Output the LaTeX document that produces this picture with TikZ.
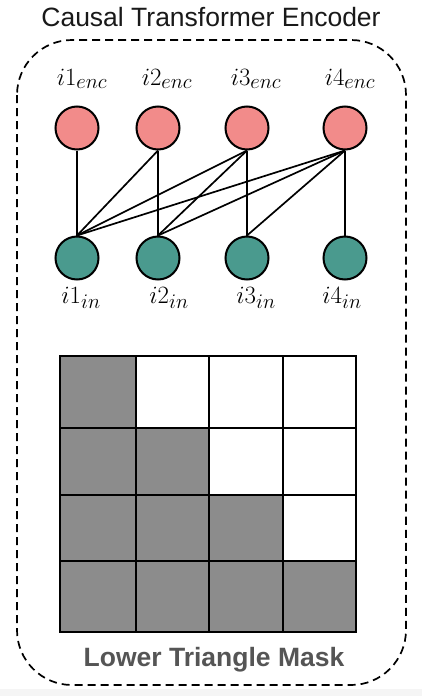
\documentclass[tikz,border=0pt]{standalone}
\usepackage{fontspec}
\newfontfamily\arialfont{Liberation Sans}
\definecolor{pinkc}{RGB}{242,139,138}
\definecolor{tealc}{RGB}{74,154,142}
\definecolor{cellgray}{RGB}{140,140,140}
\definecolor{masktext}{RGB}{85,85,85}
\definecolor{titletext}{RGB}{25,25,25}
\begin{document}
\begin{tikzpicture}[x=1pt,y=-1pt,
  encnode/.style={circle, draw=black, line width=2pt, fill=pinkc, minimum size=43pt, inner sep=0pt},
  innode/.style={circle, draw=black, line width=2pt, fill=tealc, minimum size=43pt, inner sep=0pt},
  mathlbl/.style={font=\fontsize{29}{31}\selectfont, inner sep=0pt, anchor=base},
  link/.style={line width=1.7pt, black},
  gridline/.style={line width=1.9pt, black},
  boxline/.style={line width=1.7pt, dash pattern=on 8pt off 5pt, rounded corners=55pt}
]
\useasboundingbox (0,0) rectangle (422,696);
\fill[white] (0,0) rectangle (422,696);
\fill[black!4] (0,689) rectangle (422,696);

% title
\node[font=\arialfont\fontsize{26.5}{28}\selectfont, text=titletext, inner sep=0pt] (title) at (211,17) {Causal Transformer Encoder};

% dashed container
\draw[boxline] (17,40) rectangle (406,685);

% encoder nodes
\node[encnode] (e1) at (77,128) {};
\node[encnode] (e2) at (158,128) {};
\node[encnode] (e3) at (247,128) {};
\node[encnode] (e4) at (345,128) {};

% input nodes
\node[innode] (n1) at (77,258) {};
\node[innode] (n2) at (158,258) {};
\node[innode] (n3) at (247,258) {};
\node[innode] (n4) at (345,258) {};

% labels
\node[mathlbl] (le1) at (82,85) {$i1_{enc}$};
\node[mathlbl] (le2) at (167,85) {$i2_{enc}$};
\node[mathlbl] (le3) at (256,85) {$i3_{enc}$};
\node[mathlbl] (le4) at (350,85) {$i4_{enc}$};
\node[mathlbl] (ln1) at (81,303) {$i1_{in}$};
\node[mathlbl] (ln2) at (169,303) {$i2_{in}$};
\node[mathlbl] (ln3) at (256,303) {$i3_{in}$};
\node[mathlbl] (ln4) at (342,303) {$i4_{in}$};

% causal connections
\foreach \j in {1,...,4}{
  \foreach \i in {1,...,\j}{
    \draw[link] (e\j.south) -- (n\i.north);
  }
}

% lower triangle mask grid
\def\xs{{60,136,209,283,356}}
\def\ys{{356,428,495,561,632}}
\foreach \r in {0,...,3}{
  \foreach \c in {0,...,\r}{
    \pgfmathsetmacro{\xa}{\xs[\c]}
    \pgfmathsetmacro{\xb}{\xs[\c+1]}
    \pgfmathsetmacro{\ya}{\ys[\r]}
    \pgfmathsetmacro{\yb}{\ys[\r+1]}
    \fill[cellgray] (\xa,\ya) rectangle (\xb,\yb);
  }
}
\foreach \x in {136,209,283}{
  \draw[gridline] (\x,356) -- (\x,632);
}
\foreach \y in {428,495,561}{
  \draw[gridline] (60,\y) -- (356,\y);
}
\draw[line width=2.5pt] (60,356) rectangle (356,632);

\node[font=\arialfont\bfseries\fontsize{26.5}{28}\selectfont, text=masktext, inner sep=0pt] (mask) at (214,660) {Lower Triangle Mask};
\end{tikzpicture}
\end{document}
